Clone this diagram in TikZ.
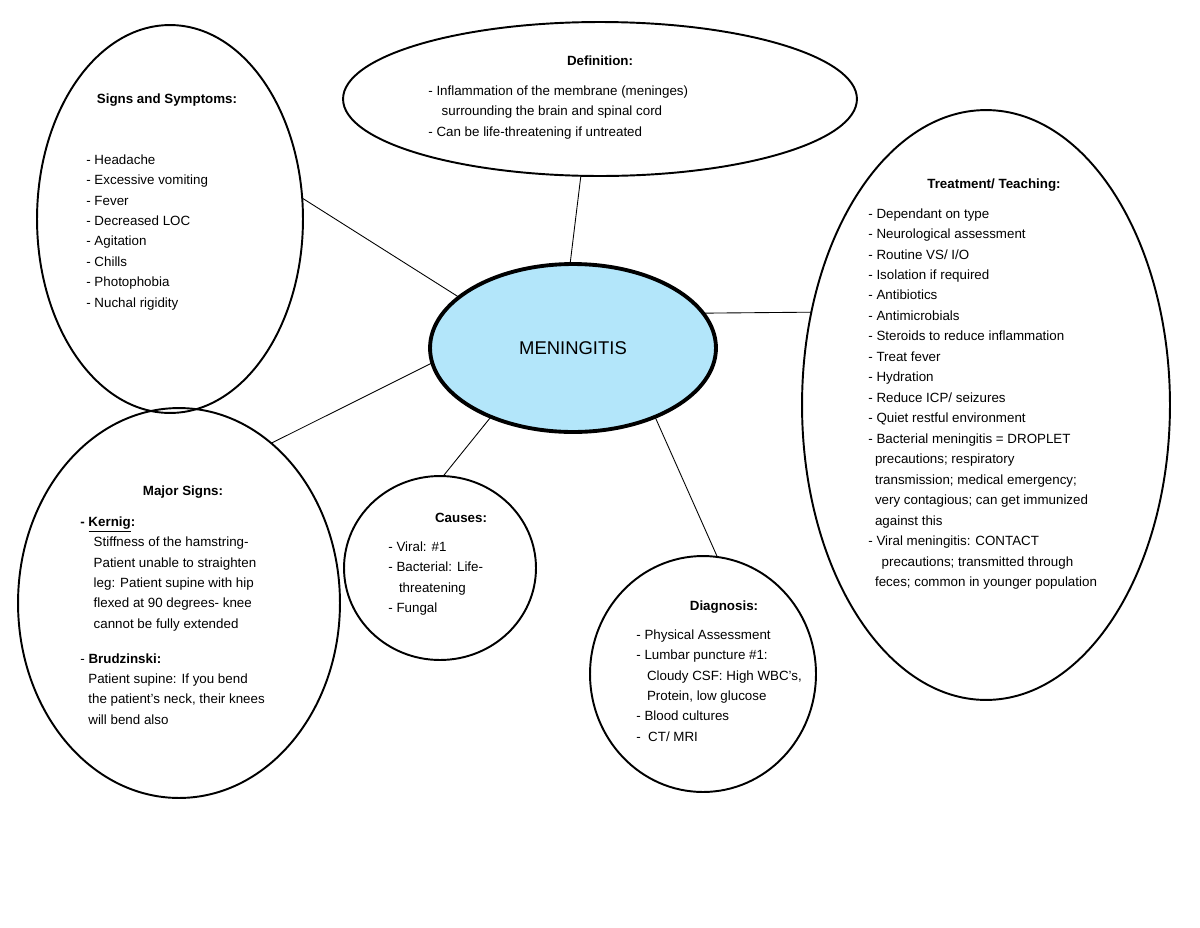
\documentclass[tikz,border=0pt]{standalone}
\usepackage{fontspec}
\setmainfont{Liberation Sans}
\usetikzlibrary{shapes.geometric}
\begin{document}
\begin{tikzpicture}[x=0.02cm,y=-0.02cm,
 bub/.style={draw,ellipse,line width=1.1pt,inner sep=0,outer sep=0},
 txt/.style={anchor=north west,align=left,inner sep=0,font=\fontsize{7.6}{11.66}\selectfont},
 ttl/.style={inner sep=0,font=\fontsize{7.6}{9}\selectfont\bfseries},
 con/.style={line width=0.5pt}]
\useasboundingbox[fill=white] (0,0) rectangle (1200,927);
\node[bub,minimum width=10.28cm,minimum height=3.08cm] (def) at (600,99) {};
\node[bub,minimum width=5.32cm,minimum height=7.76cm] (sig) at (170,219) {};
\node[bub,line width=2.2pt,fill=cyan!30,minimum width=5.72cm,minimum height=3.36cm,font=\fontsize{10.5}{12}\selectfont] (men) at (573,348) {MENINGITIS};
\node[bub,minimum width=7.36cm,minimum height=11.8cm] (tre) at (986,405) {};
\node[bub,minimum width=6.44cm,minimum height=7.8cm] (maj) at (179,603) {};
\node[bub,minimum width=3.84cm,minimum height=3.68cm] (cau) at (440,568) {};
\node[bub,minimum width=4.52cm,minimum height=4.72cm] (dia) at (703,674) {};
\draw[con] (def.256) -- (men.92);
\draw[con] (sig.9) -- (men.156);
\draw[con] (men.15) -- (tre.152);
\draw[con] (maj.60) -- (men.186);
\draw[con] (cau.88) -- (men.220);
\draw[con] (dia.83) -- (men.320);
\node[ttl] (t1) at (600,61) {Definition:};
\node[txt] (b1) at (428,85) {- Inflammation of the membrane (meninges)\\\hspace*{1em}surrounding the brain and spinal cord\\- Can be life-threatening if untreated};
\node[ttl] (t2) at (167,100) {Signs and Symptoms:};
\node[txt] (b2) at (86,154) {- Headache\\- Excessive vomiting\\- Fever\\- Decreased LOC\\- Agitation\\- Chills\\- Photophobia\\- Nuchal rigidity};
\node[ttl] (t3) at (994,185) {Treatment/ Teaching:};
\node[txt] (b3) at (868,208) {- Dependant on type\\- Neurological assessment\\- Routine VS/ I/O\\- Isolation if required\\- Antibiotics\\- Antimicrobials\\- Steroids to reduce inflammation\\- Treat fever\\- Hydration\\- Reduce ICP/ seizures\\- Quiet restful environment\\- Bacterial meningitis = DROPLET\\\hspace*{0.5em}precautions; respiratory\\\hspace*{0.5em}transmission; medical emergency;\\\hspace*{0.5em}very contagious; can get immunized\\\hspace*{0.5em}against this\\- Viral meningitis: CONTACT\\\hspace*{1em}precautions; transmitted through\\\hspace*{0.5em}feces; common in younger population};
\node[ttl] (t4) at (183,492) {Major Signs:};
\node[txt] (b4) at (80,516) {\textbf{- \underline{Kernig}:}\\\hspace*{1em}Stiffness of the hamstring-\\\hspace*{1em}Patient unable to straighten\\\hspace*{1em}leg: Patient supine with hip\\\hspace*{1em}flexed at 90 degrees- knee\\\hspace*{1em}cannot be fully extended\\[8pt]- \textbf{Brudzinski:}\\\hspace*{0.6em}Patient supine: If you bend\\\hspace*{0.6em}the patient's neck, their knees\\\hspace*{0.6em}will bend also};
\node[ttl] (t5) at (461,518) {Causes:};
\node[txt] (b5) at (388,541) {- Viral: \#1\\- Bacterial: Life-\\\hspace*{0.8em}threatening\\- Fungal};
\node[ttl] (t6) at (724,607) {Diagnosis:};
\node[txt] (b6) at (636,629) {- Physical Assessment\\- Lumbar puncture \#1:\\\hspace*{0.8em}Cloudy CSF: High WBC's,\\\hspace*{0.8em}Protein, low glucose\\- Blood cultures\\- \ CT/ MRI};
\end{tikzpicture}
\end{document}
